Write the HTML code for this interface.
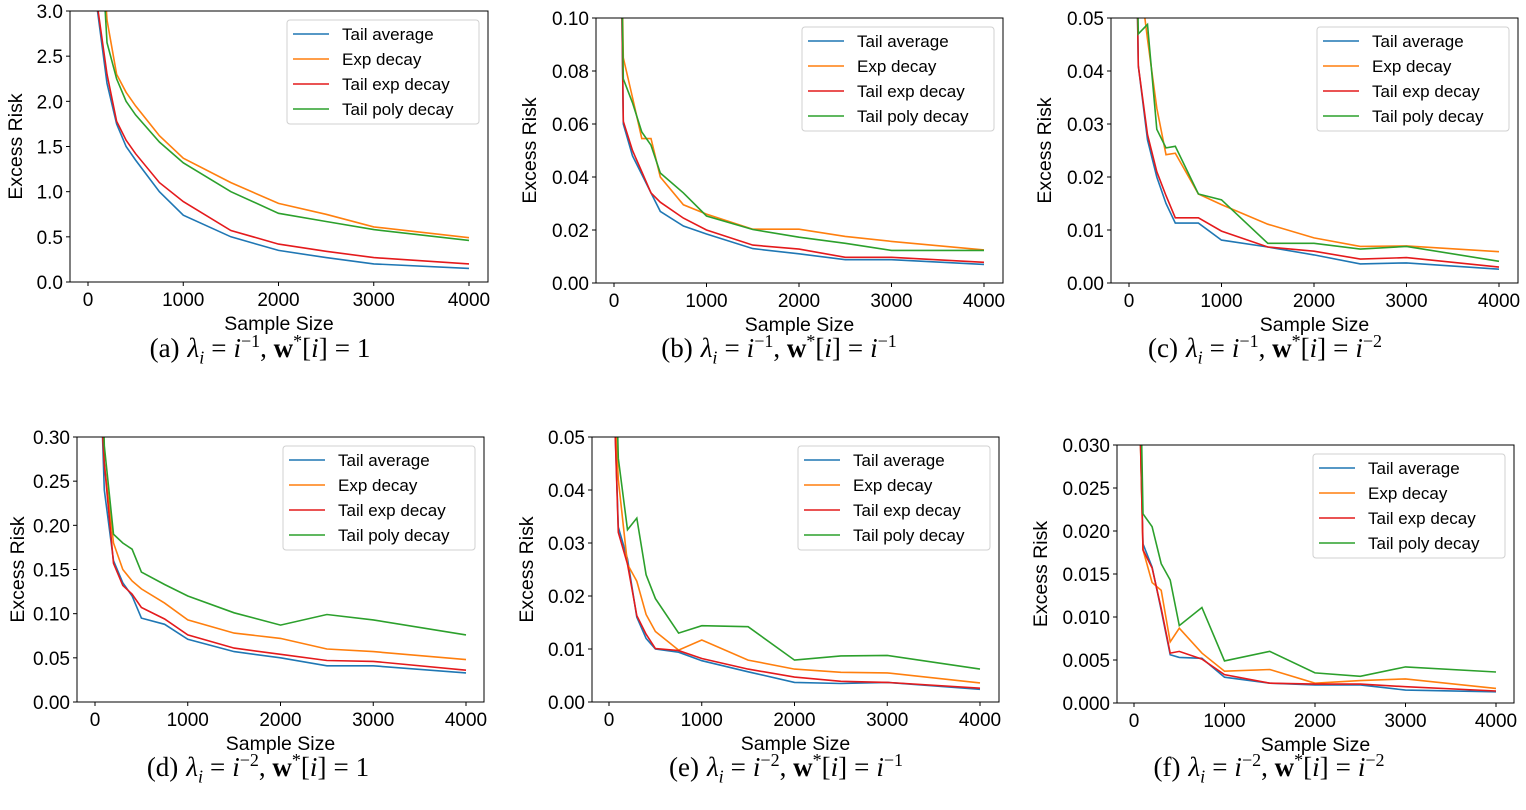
<!DOCTYPE html>
<html><head><meta charset="utf-8"><style>
body{margin:0;background:#fff;width:1526px;height:810px;overflow:hidden;position:relative;font-family:"Liberation Sans","DejaVu Sans",sans-serif}
svg{position:absolute;left:0;top:0}
.cap{position:absolute;font-family:"Liberation Serif",serif;font-size:27px;white-space:nowrap;transform:translateX(-50%)}
.cap i{font-style:italic}
.cap sup{font-size:18px}
.cap sub{font-size:18px}
.cap .eq{margin:0 7px}
.cap .lab{margin-right:8px}
</style></head><body>
<svg id="chart" width="1526" height="810"></svg>
<div class="cap" style="left:260px;top:331px"><span class="lab">(a)</span><i>λ<sub>i</sub></i><span class="eq">=</span><i>i</i><sup>−1</sup>, <b>w</b><sup>*</sup>[<i>i</i>]<span class="eq">=</span>1</div>
<div class="cap" style="left:779px;top:331px"><span class="lab">(b)</span><i>λ<sub>i</sub></i><span class="eq">=</span><i>i</i><sup>−1</sup>, <b>w</b><sup>*</sup>[<i>i</i>]<span class="eq">=</span><i>i</i><sup>−1</sup></div>
<div class="cap" style="left:1265px;top:331px"><span class="lab">(c)</span><i>λ<sub>i</sub></i><span class="eq">=</span><i>i</i><sup>−1</sup>, <b>w</b><sup>*</sup>[<i>i</i>]<span class="eq">=</span><i>i</i><sup>−2</sup></div>
<div class="cap" style="left:258px;top:750px"><span class="lab">(d)</span><i>λ<sub>i</sub></i><span class="eq">=</span><i>i</i><sup>−2</sup>, <b>w</b><sup>*</sup>[<i>i</i>]<span class="eq">=</span>1</div>
<div class="cap" style="left:786px;top:750px"><span class="lab">(e)</span><i>λ<sub>i</sub></i><span class="eq">=</span><i>i</i><sup>−2</sup>, <b>w</b><sup>*</sup>[<i>i</i>]<span class="eq">=</span><i>i</i><sup>−1</sup></div>
<div class="cap" style="left:1269px;top:750px"><span class="lab">(f)</span><i>λ<sub>i</sub></i><span class="eq">=</span><i>i</i><sup>−2</sup>, <b>w</b><sup>*</sup>[<i>i</i>]<span class="eq">=</span><i>i</i><sup>−2</sup></div>
<script>
const sampleSizes=[50,100,200,300,400,500,750,1000,1500,2000,2500,3000,4000];
const seriesNames=["Tail average","Exp decay","Tail exp decay","Tail poly decay"];
const xTicks=[0,1000,2000,3000,4000];
const aTail=[6,3.0,2.2,1.75,1.5,1.35,1.0,0.74,0.5,0.35,0.27,0.2,0.15];
const aExp=[8,4.5,2.9,2.3,2.1,1.95,1.62,1.37,1.1,0.87,0.75,0.61,0.49];
const aTailExp=[6,3.05,2.3,1.78,1.57,1.42,1.1,0.89,0.57,0.42,0.34,0.27,0.2];
const aPoly=[8,4.5,2.65,2.25,2.0,1.85,1.55,1.32,1.0,0.76,0.67,0.58,0.46];
const aTicks=["0.0","0.5","1.0","1.5","2.0","2.5","3.0"];
const bTail=[0.2,0.06,0.048,0.041,0.034,0.027,0.0215,0.0185,0.013,0.011,0.0088,0.0088,0.007];
const bExp=[0.2,0.085,0.07,0.0545,0.0545,0.04,0.0295,0.026,0.0203,0.0203,0.0176,0.0157,0.0125];
const bTailExp=[0.2,0.061,0.05,0.042,0.034,0.0305,0.0245,0.02,0.0143,0.0128,0.0097,0.0097,0.0078];
const bPoly=[0.2,0.077,0.068,0.057,0.052,0.0415,0.034,0.0253,0.0202,0.0173,0.015,0.0123,0.0123];
const bTicks=["0.00","0.02","0.04","0.06","0.08","0.10"];
const cTail=[0.1,0.041,0.027,0.02,0.015,0.0113,0.0113,0.0081,0.0068,0.0053,0.0036,0.0038,0.0026];
const cExp=[0.1,0.06,0.046,0.033,0.0242,0.0245,0.0168,0.0148,0.0111,0.0085,0.0069,0.007,0.0059];
const cTailExp=[0.1,0.041,0.028,0.021,0.0165,0.0123,0.0123,0.0098,0.0068,0.006,0.0045,0.0048,0.003];
const cPoly=[0.1,0.047,0.0488,0.029,0.0255,0.0258,0.0168,0.0157,0.0075,0.0075,0.0064,0.0069,0.0041];
const cTicks=["0.00","0.01","0.02","0.03","0.04","0.05"];
const dTail=[0.4,0.24,0.16,0.135,0.12,0.095,0.088,0.071,0.057,0.05,0.041,0.041,0.033];
const dExp=[0.5,0.27,0.18,0.15,0.137,0.128,0.112,0.093,0.078,0.072,0.06,0.057,0.048];
const dTailExp=[0.36,0.27,0.157,0.132,0.122,0.107,0.094,0.076,0.061,0.054,0.047,0.046,0.036];
const dPoly=[0.5,0.29,0.19,0.18,0.173,0.147,0.133,0.12,0.101,0.087,0.099,0.093,0.076];
const dTicks=["0.00","0.05","0.10","0.15","0.20","0.25","0.30"];
const eTail=[0.06,0.033,0.027,0.016,0.012,0.01,0.0094,0.0078,0.0057,0.0037,0.0035,0.0037,0.0024];
const eExp=[0.06,0.042,0.026,0.0228,0.0165,0.0133,0.0098,0.0117,0.0079,0.0062,0.0056,0.0055,0.0036];
const eTailExp=[0.06,0.032,0.026,0.0163,0.0128,0.0101,0.0097,0.0082,0.0062,0.0047,0.0039,0.0037,0.0026];
const ePoly=[0.08,0.046,0.0325,0.0347,0.024,0.0195,0.013,0.0144,0.0142,0.0079,0.0087,0.0088,0.0062];
const eTicks=["0.00","0.01","0.02","0.03","0.04","0.05"];
const fTail=[0.04,0.0185,0.0158,0.0108,0.0056,0.0053,0.0052,0.003,0.0023,0.0021,0.0021,0.0015,0.0013];
const fExp=[0.04,0.0178,0.014,0.0131,0.0071,0.0087,0.0058,0.0037,0.0039,0.0023,0.0026,0.0028,0.0017];
const fTailExp=[0.04,0.0178,0.0157,0.011,0.0058,0.006,0.0051,0.0033,0.0023,0.0022,0.0022,0.0019,0.0014];
const fPoly=[0.05,0.022,0.0205,0.0162,0.0143,0.009,0.0111,0.0049,0.006,0.0035,0.0031,0.0042,0.0036];
const fTicks=["0.000","0.005","0.010","0.015","0.020","0.025","0.030"];

const colors=["#1f77b4","#ff7f0e","#e41a1c","#2ca02c"];
const panels=[
 {id:"a",L:70,R:488,T:11,B:282,x0:88,x1:469,ymax:3.0,ticks:aTicks,s:[aTail,aExp,aTailExp,aPoly],yl:15},
 {id:"b",L:596,R:1003,T:18,B:283,x0:614,x1:984,ymax:0.1,ticks:bTicks,s:[bTail,bExp,bTailExp,bPoly],yl:529},
 {id:"c",L:1111,R:1518,T:18,B:283,x0:1129,x1:1499,ymax:0.05,ticks:cTicks,s:[cTail,cExp,cTailExp,cPoly],yl:1044},
 {id:"d",L:77,R:484,T:437,B:702,x0:95,x1:466,ymax:0.3,ticks:dTicks,s:[dTail,dExp,dTailExp,dPoly],yl:17},
 {id:"e",L:592,R:999,T:437,B:702,x0:609,x1:980,ymax:0.05,ticks:eTicks,s:[eTail,eExp,eTailExp,ePoly],yl:526},
 {id:"f",L:1117,R:1514,T:445,B:703,x0:1134,x1:1496,ymax:0.03,ticks:fTicks,s:[fTail,fExp,fTailExp,fPoly],yl:1040}
];
const NS="http://www.w3.org/2000/svg";
const svg=document.getElementById("chart");
function mk(tag,attrs,parent){const e=document.createElementNS(NS,tag);for(const k in attrs)e.setAttribute(k,attrs[k]);(parent||svg).appendChild(e);return e;}
const defs=mk("defs",{});
panels.forEach(p=>{
 const xs=v=>p.x0+(p.x1-p.x0)*v/4000;
 const ys=v=>p.B-(p.B-p.T)*v/p.ymax;
 const g=mk("g",{});
 
 
 const cp=mk("clipPath",{id:"clip"+p.id},defs);
 mk("rect",{x:p.L,y:p.T,width:p.R-p.L,height:p.B-p.T},cp);
 p.s.forEach((arr,i)=>{
  const d=arr.map((v,j)=>(j?"L":"M")+xs(sampleSizes[j]).toFixed(1)+","+ys(v).toFixed(1)).join("");
  const path=mk("path",{d:d,fill:"none",stroke:colors[i],"stroke-width":1.6,"clip-path":"url(#clip"+p.id+")"},g);
  
  
 });
 const frame=mk("rect",{x:p.L,y:p.T,width:p.R-p.L,height:p.B-p.T,fill:"none",stroke:"#000","stroke-width":1},g);
 
 
 xTicks.forEach(t=>{
  const x=xs(t);
  mk("line",{x1:x,x2:x,y1:p.B,y2:p.B+4,stroke:"#000"},g);
  const tx=mk("text",{x:x,y:p.B+24,"text-anchor":"middle","font-size":19,fill:"#000"},g);
  tx.textContent=t;
  
  
 });
 p.ticks.forEach(t=>{
  const y=ys(parseFloat(t));
  mk("line",{x1:p.L-4,x2:p.L,y1:y,y2:y,stroke:"#000"},g);
  const tx=mk("text",{x:p.L-7,y:y+7,"text-anchor":"end","font-size":19,fill:"#000"},g);
  tx.textContent=t;
  
  
 });
 const xt=mk("text",{x:(p.L+p.R)/2,y:p.B+48,"text-anchor":"middle","font-size":19.5,fill:"#000"},g);
 xt.textContent="Sample Size";
 
 
 const cy=(p.T+p.B)/2;
 const yt=mk("text",{x:p.yl,y:cy,"text-anchor":"middle","font-size":19.5,fill:"#000",transform:"rotate(-90 "+p.yl+" "+cy+") translate(0 7)"},g);
 yt.textContent="Excess Risk";
 
 
 const lw=192,lh=104,lx=p.R-9-lw,ly=p.T+9;
 const lg=mk("g",{},g);
 
 
 mk("rect",{x:lx,y:ly,width:lw,height:lh,rx:3,fill:"#fff","fill-opacity":0.8,stroke:"#d0d0d0"},lg);
 seriesNames.forEach((n,i)=>{
  const yy=ly+14+i*25;
  const ln=mk("line",{x1:lx+6,x2:lx+42,y1:yy,y2:yy,stroke:colors[i],"stroke-width":1.6},lg);
  
  
  const tx=mk("text",{x:lx+55,y:yy+6,"font-size":17,fill:"#000"},lg);
  tx.textContent=n;
  
  
 });
});
</script>
</body></html>
